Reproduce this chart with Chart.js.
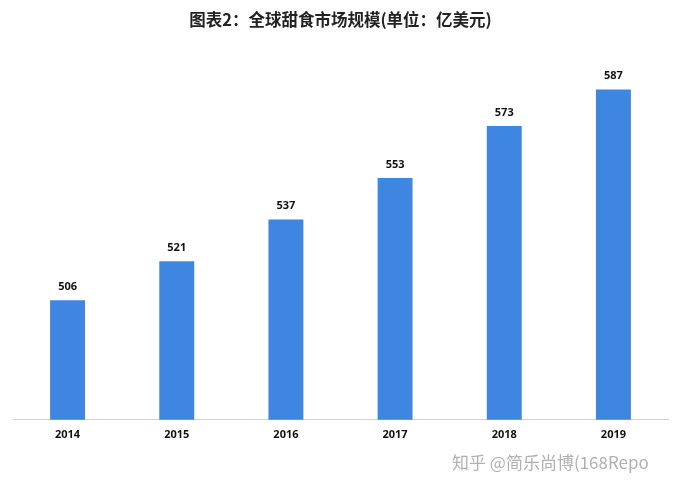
<!DOCTYPE html>
<html>
<head>
<meta charset="utf-8">
<script src="https://cdn.jsdelivr.net/npm/chart.js@4"></script>
<style>
  html, body { margin: 0; padding: 0; background: #fff; }
  #wrap { width: 682px; height: 494px; }
</style>
</head>
<body>
<div id="wrap"><canvas id="sweetChart"></canvas></div>
<script>
// Données du graphique
const years = ['2014', '2015', '2016', '2017', '2018', '2019'];
const marketSize = [506, 521, 537, 553, 573, 587];

// Étiquettes de valeur au-dessus des barres + filigrane
const valueLabels = {
    id: 'valueLabels',
    afterDatasetsDraw(chart) {
        const ctx = chart.ctx;
        const meta = chart.getDatasetMeta(0);
        ctx.save();
        ctx.font = 'bold 11px "Open Sans", "Noto Sans", sans-serif';
        ctx.fillStyle = '#111';
        ctx.textAlign = 'center';
        ctx.textBaseline = 'bottom';
        meta.data.forEach((bar, i) => {
            ctx.fillText(marketSize[i], bar.x, bar.y - 8);
        });
        ctx.font = '17px "Noto Sans CJK SC", sans-serif';
        ctx.fillStyle = 'rgba(150,150,150,0.75)';
        ctx.textAlign = 'left';
        ctx.textBaseline = 'middle';
        ctx.fillText('知乎 @简乐尚博(168Repo', 452, 463);
        ctx.restore();
    }
};

const ctx = document.getElementById('sweetChart').getContext('2d');
const sweetChart = new Chart(ctx, {
    type: 'bar',
    data: {
        labels: years,
        datasets: [{
            label: '全球甜食市场规模',
            data: marketSize,
            backgroundColor: '#3f86e0',
            categoryPercentage: 1,
            barPercentage: 0.32
        }]
    },
    options: {
        responsive: true,
        maintainAspectRatio: false,
        animation: false,
        layout: { padding: { left: 13, right: 14, top: 0, bottom: 45 } },
        plugins: {
            legend: { display: false },
            tooltip: { enabled: false },
            title: {
                display: true,
                text: '图表2：全球甜食市场规模(单位：亿美元)',
                color: '#222',
                font: { family: '"Noto Sans CJK SC", sans-serif', size: 16.5, weight: 'bold' },
                padding: { top: 10, bottom: 26 }
            }
        },
        scales: {
            x: {
                grid: { display: false, drawTicks: false },
                border: { display: true, color: '#d0d0d0' },
                ticks: {
                    color: '#111',
                    padding: 8,
                    font: { family: '"Open Sans", "Noto Sans", sans-serif', size: 11, weight: 'bold' }
                }
            },
            y: {
                display: false,
                min: 460,
                max: 600
            }
        }
    },
    plugins: [valueLabels]
});
</script>
</body>
</html>
